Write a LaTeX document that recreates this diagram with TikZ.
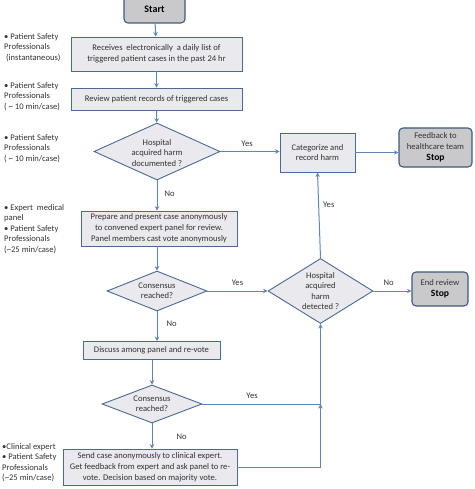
\documentclass[tikz,border=0pt]{standalone}
\usepackage{fontspec}
\setmainfont{Carlito}
\usetikzlibrary{shapes.geometric,arrows.meta,calc}
\definecolor{boxfill}{HTML}{E9E9EE}
\definecolor{boxline}{HTML}{4A6A92}
\definecolor{stopfill}{HTML}{C9C9CB}
\definecolor{stopline}{HTML}{3E5A7E}
\definecolor{arrowc}{HTML}{5F87B5}
\definecolor{txt}{HTML}{333333}
\begin{document}
\begin{tikzpicture}[x=1pt,y=-1pt,
  font=\fontsize{8.6}{10.8}\selectfont, text=txt,
  proc/.style={draw=boxline, fill=boxfill, line width=0.9pt, inner sep=0pt, align=center},
  stopbox/.style={draw=stopline, fill=stopfill, line width=1.1pt, rounded corners=4pt, inner sep=0pt, align=center},
  dec/.style={draw=boxline, fill=boxfill, line width=0.9pt, diamond, inner sep=0pt, align=center},
  arr/.style={draw=arrowc, line width=1pt, -{Stealth[length=4.5pt,width=4.5pt]}},
  lin/.style={draw=arrowc, line width=1pt},
  lab/.style={inner sep=0pt, font=\fontsize{8.6}{10.3}\selectfont},
  big/.style={font=\fontsize{10}{11}\selectfont\bfseries, text=black},
  side/.style={inner sep=0pt, anchor=north west, align=left, font=\fontsize{8.6}{10.6}\selectfont}]
\useasboundingbox (0,0) rectangle (474,489);

% main column
\node[stopbox, minimum width=61pt, minimum height=27pt, big] (start) at (154.5,9.5) {Start};
\node[proc, minimum width=171pt, minimum height=34pt] (recv) at (156.5,54) {Receives\ \ electronically\ \ a daily list of\\triggered patient cases in the past 24 hr};
\node[proc, minimum width=171pt, minimum height=22pt] (review) at (156.5,99) {Review patient records of triggered cases};
\node[dec, minimum width=126pt, minimum height=57pt] (d1) at (157,151.5) {};
\node[lab, align=center] at (157,153) {Hospital\\acquired harm\\documented ?};
\node[proc, minimum width=156pt, minimum height=35pt] (prep) at (159,228.5) {Prepare and present case anonymously\\to convened expert panel for review.\\Panel members cast vote anonymously};
\node[dec, minimum width=100pt, minimum height=40pt] (d2) at (157,291) {};
\node[lab, align=center] at (157,291) {Consensus\\reached?};
\node[proc, minimum width=137pt, minimum height=18pt] (disc) at (151.5,350.5) {Discuss among panel and re-vote};
\node[dec, minimum width=100pt, minimum height=38pt] (d3) at (152,404) {};
\node[lab, align=center] at (152,404) {Consensus\\reached?};
\node[proc, minimum width=174pt, minimum height=36pt] (send) at (150,467) {Send case anonymously to clinical expert.\\Get feedback from expert and ask panel to re-\\vote. Decision based on majority vote.};

% right column
\node[proc, minimum width=75pt, minimum height=39pt] (cat) at (317.5,152.5) {Categorize and\\record harm};
\node[stopbox, minimum width=73pt, minimum height=39pt] (fb) at (435.5,147.5) {Feedback to\\healthcare team\\{\fontsize{9.6}{10}\selectfont\color{black}\bfseries Stop}};
\node[dec, minimum width=105pt, minimum height=65pt] (d4) at (320.5,291) {};
\node[lab, align=center] at (320.5,291) {Hospital\\acquired\\harm\\detected ?};
\node[stopbox, minimum width=56pt, minimum height=34pt] (end) at (440,289) {End review\\{\fontsize{9.6}{11}\selectfont\color{black}\bfseries Stop}};
\coordinate (j) at (d4.south |- d3.east);

% connectors
\draw[arr] (start) -- (recv);
\draw[arr] (recv) -- (review);
\draw[arr] (review) -- (d1);
\draw[arr] (d1) -- node[lab, right, xshift=7pt, yshift=2pt] {No} (d1 |- prep.north);
\draw[arr] (d2 |- prep.south) -- (d2);
\draw[arr] (d2) -- node[lab, right, xshift=9pt, yshift=2pt] {No} (d2 |- disc.north);
\draw[arr] (d3 |- disc.south) -- (d3);
\draw[arr] (d3) -- node[lab, right, xshift=24pt, yshift=-1pt] {No} (d3 |- send.north);
\draw[arr] (d1.east) -- node[lab, above=4pt, pos=0.45] {Yes} (cat.west |- d1.east);
\draw[arr] (cat.east) -- (fb.west |- cat.east);
\draw[arr] (d4.north) -- node[lab, right=4pt, pos=0.62] {Yes} (cat.south);
\draw[arr] (d2.east) -- node[lab, above=5pt, pos=0.5] {Yes} (d4.west);
\draw[arr] (d4.east) -- node[lab, above=5pt, pos=0.4] {No} (end.west |- d4.east);
\draw[lin] (d3.east) -- node[lab, above=5pt, pos=0.42] {Yes} (j);
\draw[arr] (send.east) -| (j);
\draw[arr] (j) -- (d4.south);

% side notes
\node[side] (n1) at (4,33) {\textbullet\ Patient Safety\\Professionals\\\ (instantaneous)};
\node[side] (n2) at (4,82) {\textbullet\ Patient Safety\\Professionals\\( \textasciitilde\ 10 min/case)};
\node[side] (n3) at (4,134) {\textbullet\ Patient Safety\\Professionals\\( \textasciitilde\ 10 min/case)};
\node[side] (n4) at (4,204) {\textbullet\ Expert\ \ medical\\panel\\\textbullet\ Patient Safety\\Professionals\\(\textasciitilde 25 min/case)};
\node[side] (n5) at (2,443) {\textbullet Clinical expert\\\textbullet\ Patient Safety\\Professionals\\(\textasciitilde 25 min/case)};
\end{tikzpicture}
\end{document}
